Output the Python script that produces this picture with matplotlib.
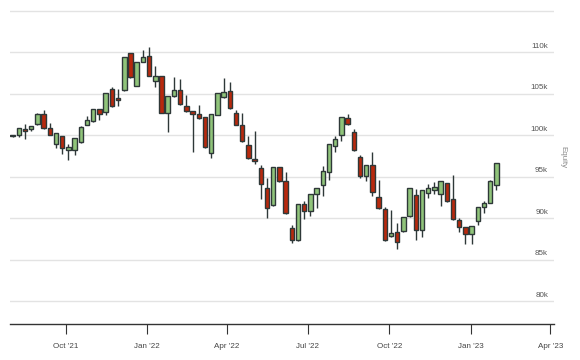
import matplotlib
matplotlib.use("Agg")
import matplotlib.pyplot as plt
import matplotlib.dates as mdates
import matplotlib.transforms as mtransforms
import numpy as np
import pandas as pd

plt.rcParams['font.family'] = ['Liberation Sans', 'DejaVu Sans']

# weekly candles (values in thousands)
dates = pd.date_range("2021-08-02", periods=79, freq="7D")
opens = [99.9, 100.0, 100.72, 100.72, 101.33, 102.53, 100.84, 98.92, 99.88, 98.19,
         98.19, 99.16, 101.2, 101.69, 103.13, 102.77, 105.54, 104.46, 105.42, 109.88,
         105.9, 108.8, 109.52, 106.5, 107.1, 102.65, 104.7, 105.42, 103.49, 102.89,
         102.53, 102.17, 97.83, 102.41, 104.58, 105.3, 102.65, 101.2, 98.8, 97.11,
         96.02, 93.61, 91.57, 96.14, 94.46, 88.8, 87.35, 91.69, 90.84, 92.89,
         93.98, 95.54, 98.67, 100.0, 102.05, 100.36, 97.35, 95.06, 96.39, 92.53,
         91.08, 87.83, 88.31, 88.43, 90.24, 92.77, 88.55, 93.01, 93.37, 92.89,
         94.22, 92.29, 89.76, 88.92, 88.07, 89.64, 91.33, 91.81, 93.98]
highs = [100.1, 100.9, 101.4, 101.1, 102.65, 103.05, 101.45, 100.3, 99.9, 98.92,
         99.7, 101.1, 102.3, 103.2, 103.2, 105.1, 105.82, 105.54, 109.4, 109.9,
         108.8, 110.28, 110.64, 108.3, 107.1, 104.7, 106.99, 106.75, 104.82, 102.9,
         103.61, 102.2, 102.53, 105.1, 106.9, 106.42, 103.0, 102.65, 99.88, 100.48,
         96.4, 94.82, 96.14, 96.2, 95.54, 89.16, 91.69, 92.05, 92.9, 93.65,
         96.27, 98.95, 99.88, 102.2, 102.53, 100.72, 97.59, 96.4, 97.95, 94.58,
         91.33, 91.0, 89.4, 90.2, 93.65, 93.49, 93.4, 94.1, 94.34, 94.5,
         94.25, 95.18, 90.0, 88.95, 89.1, 91.4, 92.05, 94.58, 96.7]
lows = [99.8, 99.75, 99.5, 100.5, 101.3, 100.8, 100.0, 98.5, 97.7, 97.0,
        97.6, 99.1, 101.2, 101.6, 101.8, 102.4, 103.4, 103.53, 105.4, 106.9,
        105.9, 108.8, 107.1, 105.86, 102.65, 100.43, 104.6, 103.7, 102.77, 97.95,
        101.93, 98.5, 97.23, 102.4, 104.5, 103.2, 101.2, 99.2, 97.2, 96.5,
        92.3, 90.0, 91.5, 94.4, 90.55, 86.99, 87.3, 89.88, 90.24, 91.2,
        92.65, 94.65, 97.95, 99.28, 101.3, 98.15, 94.82, 94.46, 92.65, 91.1,
        87.3, 87.8, 86.27, 88.3, 90.2, 87.35, 87.71, 92.41, 92.89, 91.45,
        92.0, 89.85, 88.31, 86.87, 86.87, 89.16, 90.6, 91.8, 93.37]
closes = [100.0, 100.85, 100.5, 101.1, 102.53, 100.84, 100.0, 100.24, 98.43, 98.59,
          99.64, 100.96, 101.8, 103.13, 102.53, 105.06, 103.49, 104.3, 109.4, 106.99,
          108.8, 109.4, 107.1, 107.1, 102.65, 104.7, 105.42, 103.73, 102.89, 102.53,
          102.05, 98.55, 102.53, 105.06, 105.18, 103.25, 101.2, 99.28, 97.23, 96.87,
          94.1, 91.2, 96.14, 94.46, 90.6, 87.35, 91.69, 90.84, 92.89, 93.61,
          95.66, 98.92, 99.52, 102.17, 101.33, 98.19, 95.06, 96.39, 93.13, 91.2,
          87.35, 88.19, 87.11, 90.12, 93.61, 88.55, 93.37, 93.61, 93.73, 94.46,
          92.05, 89.88, 88.92, 88.07, 89.04, 91.33, 91.81, 94.46, 96.63]

y_ticks = [80, 85, 90, 95, 100, 105, 110]
y_tick_labels = ["80k", "85k", "90k", "95k", "100k", "105k", "110k"]
x_tick_dates = ["2021-10-01", "2022-01-01", "2022-04-01", "2022-07-01",
                "2022-10-01", "2023-01-01", "2023-04-01"]
x_tick_labels = ["Oct '21", "Jan '22", "Apr '22", "Jul '22", "Oct '22", "Jan '23", "Apr '23"]

UP = '#90c47a'
DOWN = '#b8290d'
EDGE = '#2e3838'

fig = plt.figure(figsize=(5.8, 3.6), dpi=100)
ax = fig.add_axes([10/580, 1 - 324/360, 544/580, 314/360])

x = mdates.date2num(dates)
o = np.array(opens); h = np.array(highs); l = np.array(lows); c = np.array(closes)
up = c >= o
colors = np.where(up, UP, DOWN)
bottoms = np.minimum(o, c)
heights = np.maximum(np.abs(c - o), 0.06)

ax.vlines(x, l, h, color=EDGE, linewidth=1.0, zorder=2)
ax.bar(x, heights, bottom=bottoms, width=5.0, color=colors, edgecolor=EDGE,
       linewidth=1.0, zorder=3)

ax.set_xlim(mdates.date2num(pd.Timestamp("2021-07-30")),
            mdates.date2num(pd.Timestamp("2023-04-05")))
ax.set_ylim(77.27, 115.1)

# gridlines
for v in y_ticks + [115]:
    ax.axhline(v, color='#e3e3e3', linewidth=1.0, zorder=0)

ax.set_yticks([])
for s in ['top', 'right', 'left']:
    ax.spines[s].set_visible(False)
ax.spines['bottom'].set_color('#333333')
ax.spines['bottom'].set_linewidth(1.0)

ax.set_xticks(mdates.date2num(pd.to_datetime(x_tick_dates)))
ax.set_xticklabels(x_tick_labels)
ax.tick_params(axis='x', direction='out', length=7.2, width=0.8, color='#333333',
               labelsize=5.8, labelcolor='#444444', pad=6.5)

# y labels inside plot, right aligned, above gridlines
trans = mtransforms.blended_transform_factory(ax.transAxes, ax.transData)
trans = mtransforms.offset_copy(trans, fig=fig, x=-6, y=2.5, units='dots')
for v, lab in zip(y_ticks, y_tick_labels):
    ax.text(1.0, v, lab, transform=trans, ha='right', va='bottom',
            fontsize=5.8, color='#555555')

fig.text(563/580, 1 - 157/360, "Equity", rotation=-90, ha='center', va='center',
         fontsize=5.8, color='#888888')

fig.savefig("out.png", dpi=100)
